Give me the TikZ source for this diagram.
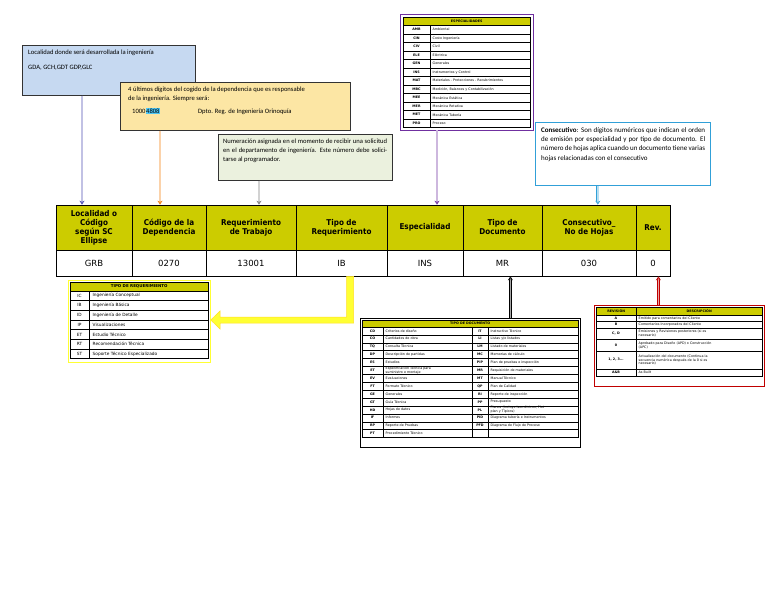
\documentclass[tikz,border=0pt]{standalone}
\usepackage{fontspec}
\setmainfont{Carlito}
\newfontfamily\tbl{DejaVu Sans}
\newfontfamily\tblc{DejaVu Sans Condensed}
\usetikzlibrary{arrows.meta,calc}
\definecolor{olive}{HTML}{CCCC00}
\definecolor{lblue}{HTML}{C6D9F1}
\definecolor{lorange}{HTML}{FCE6A4}
\definecolor{lgreen}{HTML}{EBF1DE}
\definecolor{purp}{HTML}{7030A0}
\definecolor{cyanb}{HTML}{31A0D8}
\definecolor{redb}{HTML}{C00000}
\definecolor{yel}{HTML}{FFFF33}
\tikzset{
 cbox/.style={draw=black!80,line width=0.6pt,anchor=north west,inner sep=0pt},
 ctext/.style={anchor=north west,align=left,inner sep=0pt,font=\fontsize{6.6}{8.8}\selectfont},
 hcell/.style={draw=black,line width=0.6pt,fill=olive,font=\tblc\bfseries\fontsize{8}{9}\selectfont,align=center,inner sep=0pt},
 dcell/.style={draw=black,line width=0.6pt,fill=white,font=\tbl\fontsize{8.5}{10}\selectfont,inner sep=0pt},
 conn/.style={draw=#1,line width=0.5pt,double=#1!35,double distance=1.8pt,-{Stealth[length=4pt,width=5pt,fill=#1!35]}},
 tt/.style={font=\tbl\fontsize{3.3}{3.8}\selectfont,inner sep=0.5pt},
 tb/.style={font=\tbl\bfseries\fontsize{3.3}{3.8}\selectfont,inner sep=0.5pt},
}
\begin{document}
\begin{tikzpicture}[x=1pt,y=-1pt]
\useasboundingbox[fill=white] (0,0) rectangle (768,594);
% main table
\foreach \n/\a/\b/\h/\v in {1/56/132/{Localidad o\\Código\\según SC\\Ellipse}/GRB,
 2/132/206/{Código de la\\Dependencia}/0270,
 3/206/296/{Requerimiento\\de Trabajo}/13001,
 4/296/387/{Tipo de\\Requerimiento}/IB,
 5/387/463/{Especialidad}/INS,
 6/463/542/{Tipo de\\Documento}/MR,
 7/542/636/{Consecutivo\_\\No de Hojas}/030,
 8/636/670/{Rev.}/0}{
 \node[hcell,minimum width=\b-\a,minimum height=45] (h\n) at ({(\a+\b)/2},227.5) {\h};
 \node[dcell,minimum width=\b-\a,minimum height=26] (d\n) at ({(\a+\b)/2},263) {\v};
}
% callouts
\node[cbox,fill=lblue,minimum width=173,minimum height=50] (c1) at (22,45) {};
\node[ctext] at (28,50) {Localidad donde será desarrollada la ingeniería\\[6pt]GDA, GCH,GDT GDP,GLC};
\node[cbox,fill=lorange,minimum width=230,minimum height=48] (c2) at (120,82) {};
\node[ctext] at (128,87) {4 últimos dígitos del cogido de la dependencia que es responsable\\de la ingeniería. Siempre será:\\[4pt]\hspace*{4pt}1000{\setlength{\fboxsep}{0.6pt}\colorbox{cyan!70}{4808}}\hspace{38pt}Dpto. Reg. de Ingeniería Orinoquía};
\node[cbox,fill=lgreen,minimum width=174,minimum height=46] (c3) at (218,134) {};
\node[ctext,text width=164,align=justify] at (223,139) {Numeración asignada en el momento de recibir una solicitud en el departamento de ingeniería. Este número debe solicitarse al programador.};
\node[cbox,draw=cyanb,fill=white,minimum width=175,minimum height=63] (c4) at (535,122) {};
\node[ctext,text width=164,align=justify,font=\fontsize{7}{9.3}\selectfont] at (541,127) {\textbf{Consecutivo}: Son dígitos numéricos que indican el orden de emisión por especialidad y por tipo de documento. El número de hojas aplica cuando un documento tiene varias hojas relacionadas con el consecutivo};
% especialidades table
\node[draw=purp,line width=0.8pt,minimum width=133,minimum height=116,anchor=north west,inner sep=0] (esp) at (400,14) {};
\node[tb,draw=black,fill=olive,minimum width=127,minimum height=8,anchor=north west] at (403,17) {ESPECIALIDADES};
\foreach \c/\t [count=\i] in {AMB/Ambiental,CIN/Costo Ingeniería,CIV/Civil,ELE/Eléctrica,GEN/Generales,INS/Instrumentos y Control,MAT/{Materiales - Protecciones - Recubrimientos},MBC/{Medición, Balances y Contabilización},MEE/Mecánica Estática,MER/Mecánica Rotativa,MET/Mecánica Tubería,PRO/Proceso}{
 \draw[line width=0.3pt] (403,{17+8.5*\i}) rectangle (430,{25.5+8.5*\i}) (430,{17+8.5*\i}) rectangle (530,{25.5+8.5*\i});
 \node[tb] at (416.5,{21.25+8.5*\i}) {\c};
 \node[tt,anchor=west] at (432,{21.25+8.5*\i}) {\t};
}
% tipo de requerimiento
\node[draw=yel,line width=0.8pt,minimum width=142,minimum height=82,anchor=north west,inner sep=0] (treq) at (68,280) {};
\node[tb,draw=black,fill=olive,minimum width=138,minimum height=9,anchor=north west,font=\tbl\bfseries\fontsize{4}{5}\selectfont] at (70,282) {TIPO DE REQUERIMIENTO};
\foreach \c/\t [count=\i] in {IC/Ingeniería Conceptual,IB/Ingeniería Básica,ID/Ingeniería de Detalle,IP/Visualizaciones,ET/Estudio Técnico,RT/Recomendación Técnica,ST/Soporte Técnico Especializado}{
 \draw[line width=0.3pt] (70,{281+9.7*\i}) rectangle (89,{290.7+9.7*\i}) (89,{281+9.7*\i}) rectangle (208,{290.7+9.7*\i});
 \node[tt,font=\tbl\fontsize{4.3}{5}\selectfont] at (79.5,{286+9.7*\i}) {\c};
 \node[tt,anchor=west,font=\tbl\fontsize{4.3}{5}\selectfont] at (92,{286+9.7*\i}) {\t};
}
% tipo de documento
\node[draw=black,line width=0.8pt,minimum width=220,minimum height=129,anchor=north west,inner sep=0] (tdoc) at (360,318) {};
\node[tb,draw=black,fill=olive,minimum width=216,minimum height=7,anchor=north west] at (362,320) {TIPO DE DOCUMENTO};
\foreach \c/\t/\e/\u [count=\i] in {CD/Criterios de diseño/IT/Instructivo Técnico,CO/Cantidades de obra/LI/{Listas y/o listados},TQ/Consulta Técnica/LM/Listado de materiales,DP/Descripción de partidas/MC/Memorias de cálculo,ES/Estudios/PIP/Plan de pruebas e inspección,ET/{Especificación Técnica para\\suministro e montaje}/MR/Requisición de materiales,EV/Evaluaciones/MT/Manual Técnico,FT/Formato Técnico/QP/Plan de Calidad,GE/Generales/RI/Reporte de inspección,GT/Guía Técnica/PP/Presupuesto,HD/Hojas de datos/PL/{Planos (Incluye Isométricos, Plot\\plan y Típicos)},IF/Informes/PID/Diagrama tubería e Instrumentos,RP/Reporte de Pruebas/PFD/Diagrama de Flujo de Proceso,PT/Procedimiento Técnico//}{
 \draw[line width=0.3pt] (362,{319+7.9*\i}) rectangle (383,{326.9+7.9*\i}) (383,{319+7.9*\i}) rectangle (472,{326.9+7.9*\i}) (472,{319+7.9*\i}) rectangle (488,{326.9+7.9*\i}) (488,{319+7.9*\i}) rectangle (578,{326.9+7.9*\i});
 \node[tb] at (372.5,{322.95+7.9*\i}) {\c};
 \node[tt,anchor=west,align=left] at (385,{322.95+7.9*\i}) {\t};
 \node[tb] at (480,{322.95+7.9*\i}) {\e};
 \node[tt,anchor=west,align=left] at (490,{322.95+7.9*\i}) {\u};
}
% revision table
\node[draw=redb,line width=0.8pt,minimum width=170,minimum height=81,anchor=north west,inner sep=0] (rev) at (594,305) {};
\node[tb,draw=black,fill=olive,minimum width=40,minimum height=8,anchor=north west] at (596,307) {REVISIÓN};
\node[tb,draw=black,fill=olive,minimum width=126,minimum height=8,anchor=north west] at (636,307) {DESCRIPCIÓN};
\foreach \c/\t/\y/\hh in {A/Emitido para comentarios del Cliente/315/6.5,B/Comentarios Incorporados del Cliente/321.5/6.5,{C, D}/{Emisiones y Revisiones posteriores (si es\\necesario)}/328/11,0/{Aprobado para Diseño (APD) o Construcción\\(APC)}/339/12,{1, 2, 3...}/{Actualización del documento (Continua la\\secuencia numérica después de la 0 si es\\necesario)}/351/18,A\&B/As Built/369/7}{
 \draw[line width=0.3pt] (596,\y) rectangle (636,\y+\hh) (636,\y) rectangle (762,\y+\hh);
 \node[tb] at (616,\y+\hh/2) {\c};
 \node[tt,anchor=west,align=left] at (638,\y+\hh/2) {\t};
}
% connectors
\draw[conn=blue!40!gray] (c1.south -| h1.north) ++(-12,0) coordinate (s1) -- (s1 |- h1.north);
\draw[conn=orange!80!brown] (c2.south -| h2.north) ++(-9,0) coordinate (s2) -- (s2 |- h2.north);
\draw[conn=gray] (c3.south -| h3.north) ++(8,0) coordinate (s3) -- (s3 |- h3.north);
\draw[conn=purp] (437,130) coordinate (s5) -- (s5 |- h5.north);
\draw[conn=cyanb] (c4.south) ++(-25,0) coordinate (s7) -- (s7 |- h7.north);
\draw[conn=black] (tdoc.north) ++(40,0) coordinate (s6) -- (s6 |- d6.south);
\draw[conn=redb] (rev.north) ++(-21,0) coordinate (s8) -- (s8 |- d8.south);
% yellow block arrow from IB to tipo de requerimiento
\coordinate (ya) at ($(d4.south)+(5,0)$);
\coordinate (yb) at ($(d4.south)+(12,0)$);
\coordinate (tip) at (treq.east |- 0,320);
\draw[yel!75!orange,line width=0.5pt,fill=yel]
  (ya) -- (yb) -- (yb |- 0,323) -- (220,323) -- (220,329) -- (tip) -- (220,311) -- (220,317) -- (ya |- 0,317) -- cycle;
\end{tikzpicture}
\end{document}
